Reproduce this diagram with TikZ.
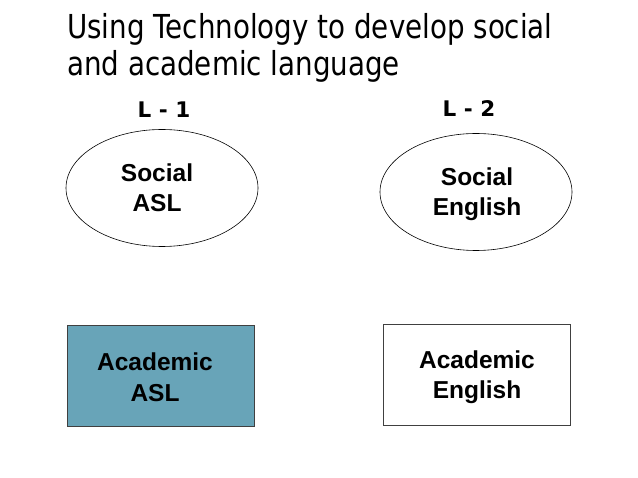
\documentclass[tikz,border=0pt]{standalone}
\usepackage{fontspec}
\setmainfont{Liberation Sans}
\newfontfamily\titlefont[FakeStretch=0.84]{DejaVu Sans}
\newfontfamily\lvlfont{DejaVu Sans}
\usetikzlibrary{shapes.geometric}
\definecolor{tealfill}{HTML}{68A4B8}
\definecolor{edgegray}{HTML}{404040}
\tikzset{
  titletext/.style={anchor=base west, inner sep=0pt, font=\titlefont\fontsize{33}{37}\selectfont},
  lvltext/.style={anchor=base, inner sep=0pt, font=\lvlfont\bfseries\fontsize{21.5}{24}\selectfont},
  shapetext/.style={align=center, font=\bfseries\fontsize{24.5}{30.5}\selectfont, inner sep=0pt},
  oval/.style={ellipse, draw=black, line width=0.6pt, minimum width=192pt, minimum height=117pt},
  box/.style={rectangle, draw=edgegray, line width=0.8pt, minimum width=187pt, minimum height=101pt}
}
\begin{document}
\begin{tikzpicture}[x=1pt,y=-1pt]
\path[use as bounding box, fill=white] (0,0) rectangle (638,478);
\node[titletext] (t1) at (67,39) {Using Technology to develop social};
\node[titletext] (t2) at (67,76) {and academic language};
\node[lvltext] (l1) at (164,118) {L - 1};
\node[lvltext] (l2) at (469,117) {L - 2};
\node[oval] (sasl) at (162,188) {};
\node[oval] (seng) at (476,192) {};
\node[box, fill=tealfill] (aasl) at (160.5,375.5) {};
\node[box, fill=white] (aeng) at (477,374.5) {};
\node[shapetext] (sasltxt) at (157,187.5) {Social\\ASL};
\node[shapetext] (sengtxt) at (477,194) {Social\\English};
\node[shapetext] (aasltxt) at (155,377) {Academic\\ASL};
\node[shapetext] (aengtxt) at (477,377) {Academic\\English};
\end{tikzpicture}
\end{document}
